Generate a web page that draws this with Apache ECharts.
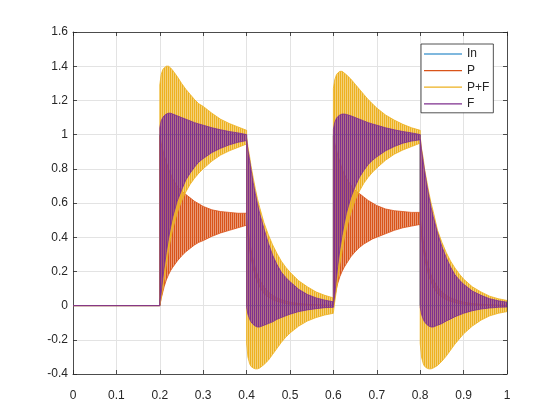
<!DOCTYPE html>
<html>
<head>
<meta charset="utf-8">
<script src="https://cdn.jsdelivr.net/npm/echarts@6/dist/echarts.min.js"></script>
<style>
html,body{margin:0;padding:0;background:#fff;}
#chart{width:560px;height:420px;}
</style>
</head>
<body>
<div id="chart"></div>
<script>
// ---- data ----
const seriesNames = ['In', 'P', 'P+F', 'F'];
const xTicks = [0, 0.1, 0.2, 0.3, 0.4, 0.5, 0.6, 0.7, 0.8, 0.9, 1];
const yTicks = [-0.4, -0.2, 0, 0.2, 0.4, 0.6, 0.8, 1, 1.2, 1.4, 1.6];

// input square wave
const inX = [0, 0.2, 0.2, 0.4, 0.4, 0.6, 0.6, 0.8, 0.8, 1.0];
const inY = [0, 0, 1, 1, 0, 0, 1, 1, 0, 0];

// sample times of the envelopes of the oscillating responses
const envX = [0, 0.2,
  0.2, 0.203, 0.207, 0.21, 0.215, 0.22, 0.225, 0.23, 0.24, 0.25, 0.26, 0.27, 0.28, 0.29, 0.30, 0.32, 0.34, 0.36, 0.38, 0.40,
  0.4, 0.403, 0.407, 0.41, 0.415, 0.42, 0.425, 0.43, 0.44, 0.45, 0.46, 0.47, 0.48, 0.49, 0.50, 0.52, 0.54, 0.56, 0.58, 0.60,
  0.6, 0.603, 0.607, 0.61, 0.615, 0.62, 0.625, 0.63, 0.64, 0.65, 0.66, 0.67, 0.68, 0.69, 0.70, 0.72, 0.74, 0.76, 0.78, 0.80,
  0.8, 0.803, 0.807, 0.81, 0.815, 0.82, 0.825, 0.83, 0.84, 0.85, 0.86, 0.87, 0.88, 0.89, 0.90, 0.92, 0.94, 0.96, 0.98, 1.00];

// P : upper / lower envelope
const pUpper = [0, 0,
  0.99, 0.95, 0.91, 0.88, 0.84, 0.80, 0.77, 0.74, 0.70, 0.67, 0.65, 0.63, 0.61, 0.595, 0.58, 0.56, 0.55, 0.545, 0.54, 0.54,
  0.52, 0.45, 0.38, 0.33, 0.27, 0.22, 0.18, 0.15, 0.11, 0.08, 0.06, 0.045, 0.035, 0.027, 0.02, 0.012, 0.008, 0.005, 0.003, 0.002,
  0.99, 0.95, 0.91, 0.88, 0.84, 0.80, 0.77, 0.745, 0.705, 0.675, 0.655, 0.635, 0.615, 0.60, 0.585, 0.565, 0.555, 0.55, 0.545, 0.545,
  0.52, 0.45, 0.38, 0.33, 0.27, 0.22, 0.18, 0.15, 0.11, 0.08, 0.06, 0.045, 0.035, 0.027, 0.02, 0.012, 0.008, 0.005, 0.003, 0.002];
const pLower = [0, 0,
  0.0, 0.04, 0.08, 0.11, 0.15, 0.18, 0.205, 0.225, 0.26, 0.29, 0.315, 0.335, 0.355, 0.37, 0.38, 0.405, 0.425, 0.44, 0.455, 0.47,
  0.47, 0.40, 0.33, 0.28, 0.22, 0.17, 0.14, 0.11, 0.07, 0.05, 0.035, 0.025, 0.018, 0.012, 0.008, 0.004, 0.002, 0.001, 0.0, 0.0,
  0.0, 0.05, 0.10, 0.13, 0.17, 0.20, 0.225, 0.245, 0.285, 0.315, 0.34, 0.36, 0.375, 0.39, 0.40, 0.42, 0.44, 0.455, 0.465, 0.475,
  0.47, 0.40, 0.33, 0.28, 0.22, 0.17, 0.14, 0.11, 0.07, 0.05, 0.035, 0.025, 0.018, 0.012, 0.008, 0.004, 0.002, 0.001, 0.0, 0.0];

// P+F : upper / lower envelope
const pfUpper = [0, 0,
  1.29, 1.35, 1.38, 1.39, 1.40, 1.40, 1.39, 1.375, 1.34, 1.30, 1.265, 1.235, 1.205, 1.18, 1.165, 1.125, 1.09, 1.065, 1.045, 1.025,
  0.99, 0.93, 0.87, 0.82, 0.75, 0.685, 0.625, 0.575, 0.485, 0.415, 0.355, 0.305, 0.26, 0.225, 0.195, 0.145, 0.11, 0.08, 0.06, 0.045,
  1.27, 1.32, 1.35, 1.36, 1.37, 1.37, 1.36, 1.35, 1.325, 1.295, 1.265, 1.235, 1.205, 1.18, 1.155, 1.115, 1.085, 1.06, 1.04, 1.025,
  0.99, 0.92, 0.86, 0.80, 0.73, 0.66, 0.60, 0.55, 0.44, 0.37, 0.31, 0.26, 0.22, 0.185, 0.155, 0.11, 0.08, 0.055, 0.04, 0.03];
const pfLower = [0, 0,
  0.0, 0.04, 0.10, 0.15, 0.24, 0.32, 0.39, 0.45, 0.54, 0.61, 0.665, 0.71, 0.745, 0.775, 0.80, 0.845, 0.88, 0.905, 0.925, 0.945,
  -0.22, -0.30, -0.34, -0.355, -0.365, -0.37, -0.37, -0.365, -0.345, -0.32, -0.285, -0.25, -0.215, -0.185, -0.16, -0.12, -0.09, -0.07, -0.055, -0.045,
  -0.04, 0.02, 0.09, 0.15, 0.24, 0.32, 0.39, 0.45, 0.54, 0.615, 0.67, 0.715, 0.75, 0.78, 0.805, 0.85, 0.885, 0.91, 0.93, 0.95,
  -0.22, -0.30, -0.34, -0.355, -0.365, -0.37, -0.37, -0.365, -0.35, -0.325, -0.295, -0.26, -0.225, -0.195, -0.165, -0.12, -0.085, -0.06, -0.045, -0.035];

// F : upper / lower envelope
const fUpper = [0, 0,
  1.04, 1.08, 1.10, 1.11, 1.12, 1.125, 1.125, 1.12, 1.11, 1.10, 1.09, 1.08, 1.07, 1.062, 1.055, 1.04, 1.028, 1.018, 1.01, 1.0,
  0.98, 0.91, 0.85, 0.80, 0.72, 0.655, 0.595, 0.54, 0.45, 0.365, 0.295, 0.24, 0.195, 0.165, 0.14, 0.095, 0.065, 0.045, 0.032, 0.022,
  1.03, 1.07, 1.095, 1.105, 1.115, 1.12, 1.12, 1.118, 1.11, 1.10, 1.09, 1.08, 1.07, 1.062, 1.055, 1.04, 1.028, 1.018, 1.01, 1.0,
  0.98, 0.91, 0.84, 0.79, 0.71, 0.64, 0.575, 0.52, 0.425, 0.345, 0.28, 0.225, 0.18, 0.15, 0.125, 0.085, 0.06, 0.04, 0.028, 0.02];
const fLower = [0, 0,
  0.02, 0.07, 0.16, 0.22, 0.31, 0.39, 0.46, 0.52, 0.61, 0.675, 0.735, 0.775, 0.81, 0.84, 0.86, 0.895, 0.92, 0.94, 0.955, 0.965,
  -0.01, -0.05, -0.08, -0.095, -0.11, -0.12, -0.125, -0.125, -0.115, -0.105, -0.095, -0.08, -0.07, -0.06, -0.05, -0.035, -0.025, -0.018, -0.012, -0.01,
  0.0, 0.06, 0.16, 0.23, 0.33, 0.41, 0.48, 0.54, 0.63, 0.695, 0.75, 0.79, 0.825, 0.85, 0.87, 0.905, 0.93, 0.95, 0.962, 0.97,
  -0.01, -0.05, -0.08, -0.095, -0.11, -0.12, -0.125, -0.125, -0.115, -0.105, -0.09, -0.078, -0.065, -0.055, -0.045, -0.03, -0.02, -0.014, -0.01, -0.008];

// ---- styling ----
const colors = ['#0072BD', '#D95319', '#EDB120', '#7E2F8E'];
const FONT = '"Liberation Sans", Arial, Helvetica, sans-serif';
const TXT = '#262626';

function stripePattern(hex) {
  const c = document.createElement('canvas');
  c.width = 2; c.height = 1;
  const g = c.getContext('2d');
  g.fillStyle = hex;
  g.fillRect(0, 0, 1, 1);
  g.globalAlpha = 0.6;
  g.fillRect(1, 0, 1, 1);
  return { image: c, repeat: 'repeat' };
}

function bandSeries(name, color, upper, lower) {
  const data = envX.map((x, i) => [x, lower[i], upper[i]]);
  const fill = stripePattern(color);
  return {
    name: name,
    type: 'custom',
    z: 2,
    itemStyle: { color: color },
    data: data,
    encode: { x: 0, y: [1, 2] },
    clip: true,
    renderItem: function (params, api) {
      if (params.dataIndex !== 0) return { type: 'group', children: [] };
      const up = [], lo = [];
      for (let i = 0; i < data.length; i++) {
        up.push(api.coord([data[i][0], data[i][2]]));
        lo.push(api.coord([data[i][0], data[i][1]]));
      }
      const poly = up.concat(lo.slice().reverse());
      return {
        type: 'group',
        children: [
          { type: 'polygon', shape: { points: poly }, style: { fill: fill, stroke: null } },
          { type: 'polyline', shape: { points: up }, style: { fill: null, stroke: color, lineWidth: 0.8 } },
          { type: 'polyline', shape: { points: lo }, style: { fill: null, stroke: color, lineWidth: 0.8 } }
        ]
      };
    }
  };
}

const chart = echarts.init(document.getElementById('chart'), null, { renderer: 'canvas' });

const axisLineStyle = { color: TXT, width: 0.8 };
const gridLine = { show: true, lineStyle: { color: '#e3e3e3', width: 1 } };

const option = {
  animation: false,
  backgroundColor: '#fff',
  textStyle: { fontFamily: FONT },
  grid: { left: 73, right: 53, top: 32, bottom: 46, containLabel: false },
  xAxis: [
    {
      type: 'value', min: xTicks[0], max: xTicks[xTicks.length - 1], interval: 0.1,
      position: 'bottom',
      axisLine: { show: true, onZero: false, lineStyle: axisLineStyle },
      axisTick: { show: true, inside: true, length: 4, lineStyle: axisLineStyle },
      axisLabel: { color: TXT, fontSize: 12, fontFamily: FONT, margin: 16 },
      splitLine: gridLine
    },
    {
      type: 'value', min: xTicks[0], max: xTicks[xTicks.length - 1], interval: 0.1,
      position: 'top',
      axisLine: { show: true, onZero: false, lineStyle: axisLineStyle },
      axisTick: { show: true, inside: true, length: 4, lineStyle: axisLineStyle },
      axisLabel: { show: false },
      splitLine: { show: false }
    }
  ],
  yAxis: [
    {
      type: 'value', min: yTicks[0], max: yTicks[yTicks.length - 1], interval: 0.2,
      position: 'left',
      axisLine: { show: true, onZero: false, lineStyle: axisLineStyle },
      axisTick: { show: true, inside: true, length: 4, lineStyle: axisLineStyle },
      axisLabel: { color: TXT, fontSize: 12, fontFamily: FONT, margin: 5 },
      splitLine: gridLine
    },
    {
      type: 'value', min: yTicks[0], max: yTicks[yTicks.length - 1], interval: 0.2,
      position: 'right',
      axisLine: { show: true, onZero: false, lineStyle: axisLineStyle },
      axisTick: { show: true, inside: true, length: 4, lineStyle: axisLineStyle },
      axisLabel: { show: false },
      splitLine: { show: false }
    }
  ],
  legend: {
    orient: 'vertical',
    left: 421, top: 44,
    data: seriesNames.map(n => ({ name: n, icon: 'rect' })),
    itemWidth: 38, itemHeight: 1.2, itemGap: 2.6,
    padding: [3, 4, 2, 3],
    borderColor: TXT, borderWidth: 0.8,
    backgroundColor: '#fff',
    textStyle: { color: TXT, fontSize: 12, fontFamily: FONT, lineHeight: 14 },
    selectedMode: false,
    z: 10
  },
  series: [
    {
      name: seriesNames[0], type: 'line',
      z: 1,
      data: inX.map((x, i) => [x, inY[i]]),
      symbol: 'none', showSymbol: false,
      lineStyle: { color: colors[0], width: 1 },
      itemStyle: { color: colors[0] }
    },
    bandSeries(seriesNames[1], colors[1], pUpper, pLower),
    bandSeries(seriesNames[2], colors[2], pfUpper, pfLower),
    bandSeries(seriesNames[3], colors[3], fUpper, fLower)
  ]
};

chart.setOption(option);
</script>
</body>
</html>
